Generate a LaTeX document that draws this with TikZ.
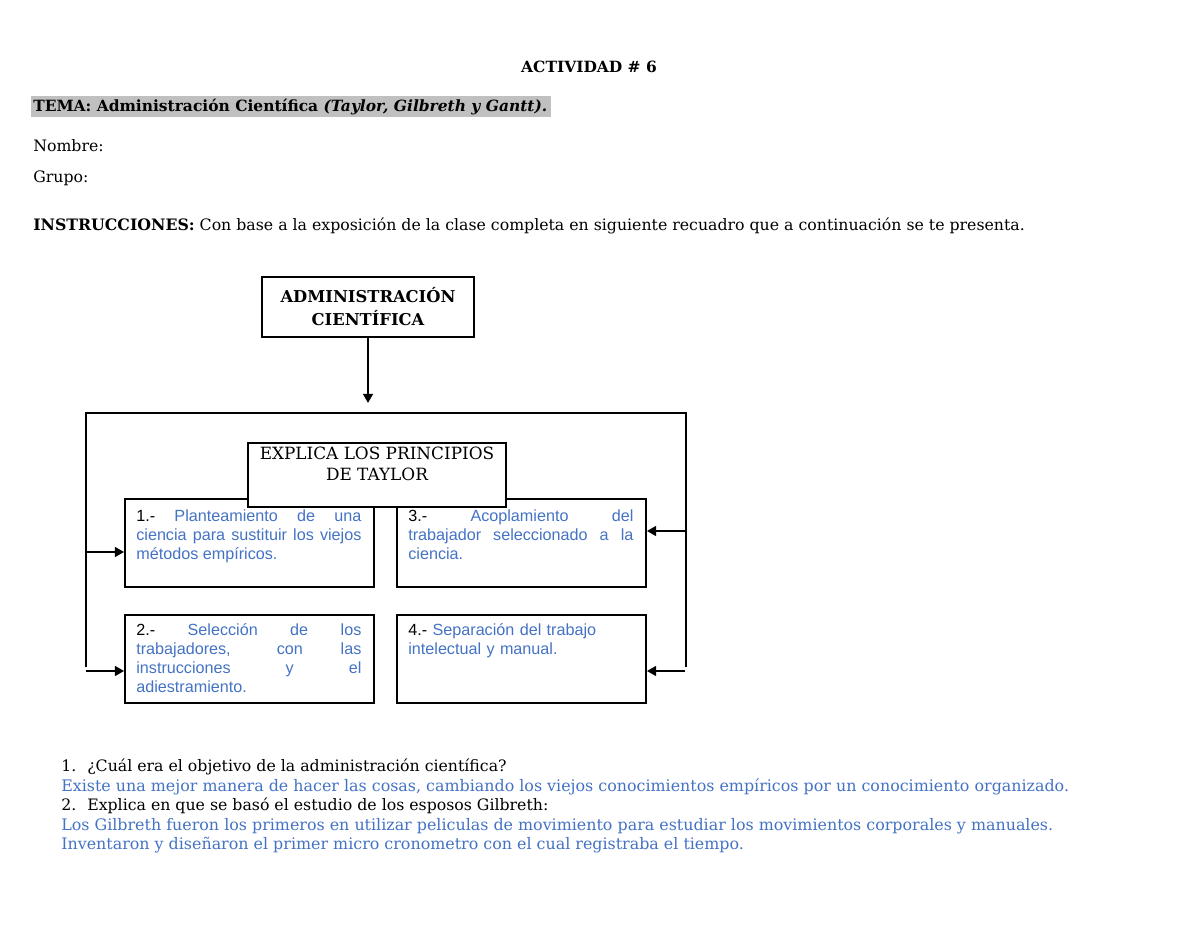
\documentclass[tikz,border=0pt]{standalone}
\usepackage{fontspec}
\setmainfont{DejaVu Serif}
\newfontfamily\boxfont{Liberation Sans}
\usepackage{xcolor}
\definecolor{tblue}{RGB}{68,114,196}
\definecolor{hlgray}{RGB}{192,192,192}
\usetikzlibrary{arrows.meta, positioning, calc}

\begin{document}
\begin{tikzpicture}[x=0.025cm, y=-0.025cm,
    hdr/.style={anchor=base west, inner sep=0pt, font=\fontsize{11.2}{13}\selectfont},
    ans/.style={hdr, text=tblue, font=\fontsize{11.3}{13}\selectfont},
    pbox/.style={draw, line width=1.3pt, minimum width=6.225cm, minimum height=2.2cm, inner sep=0pt},
    ptext/.style={anchor=north west, inner sep=0pt, text width=5.625cm, align=justify,
                  font=\boxfont\fontsize{11.5}{13.5}\selectfont, text=tblue},
    frameline/.style={line width=1.3pt},
    link/.style={line width=1.3pt, -{Triangle[length=6.5pt, width=7pt]}}]
\useasboundingbox (0,0) rectangle (1200,927);

% === Header ===
\node[hdr, anchor=base, font=\bfseries\fontsize{11}{13}\selectfont] (title) at (589,72) {ACTIVIDAD \# 6};
\fill[hlgray] (31,96) rectangle (551,117);
\node[hdr, font=\bfseries\fontsize{11}{13}\selectfont] (tema) at (33,111)
     {TEMA: Administración Científica \textit{(Taylor, Gilbreth y Gantt).}};
\node[hdr] (nombre) at (33,151) {Nombre:};
\node[hdr] (grupo) at (33,182) {Grupo:};
\node[hdr] (instr) at (33,230)
     {\textbf{INSTRUCCIONES:} Con base a la exposición de la clase completa en siguiente recuadro que a continuación se te presenta.};

% === Top box ===
\node[draw, line width=1.3pt, minimum width=5.3cm, minimum height=1.5cm, align=center,
      font=\bfseries\fontsize{11.6}{16.4}\selectfont] (admin) at (368,307) {ADMINISTRACIÓN\\CIENTÍFICA};
\coordinate (admindown) at (368,403);
\draw[link] (admin.south) -- (admindown);

% === Frame round the principles ===
\coordinate (fl) at (86,667);
\coordinate (ftl) at (86,413);
\coordinate (ftr) at (686,413);
\coordinate (fr) at (686,667);
\draw[frameline] (fl) -- (ftl) -- (ftr) -- (fr);

% === Principle boxes ===
\node[pbox] (p1) at (249.5,543) {};
\node[pbox] (p3) at (521.5,543) {};
\node[pbox] (p2) at (249.5,659) {};
\node[pbox] (p4) at (521.5,659) {};

\node[ptext] (t1) at ($(p1.north west)+(12,9.7)$)
     {\strut\textcolor{black}{1.-} Planteamiento de una\linebreak ciencia para sustituir los viejos\linebreak métodos empíricos.};
\node[ptext] (t3) at ($(p3.north west)+(12,9.7)$)
     {\strut\textcolor{black}{3.-} Acoplamiento del\linebreak trabajador seleccionado a la\linebreak ciencia.};
\node[ptext] (t2) at ($(p2.north west)+(12,7.7)$)
     {\strut\textcolor{black}{2.-} Selección de los\linebreak trabajadores, con las\linebreak instrucciones y el\linebreak adiestramiento.};
\node[ptext, align=left] (t4) at ($(p4.north west)+(12,7.7)$)
     {\strut\textcolor{black}{4.-} Separación del trabajo\\intelectual y manual.};

% === Title box over the principles ===
\node[draw, line width=1.3pt, fill=white, minimum width=6.45cm, minimum height=1.6cm] (explica) at (377,475) {};
\node[anchor=north, inner sep=0pt, align=center, font=\fontsize{12}{15}\selectfont] (explicatxt)
     at ($(explica.north)+(0,4.5)$) {EXPLICA LOS PRINCIPIOS\\DE TAYLOR};

% Arrows from the frame
\coordinate (a1) at (86,552);
\coordinate (a2) at (86,671);
\coordinate (a3) at (686,531);
\coordinate (a4) at (685,671);
\draw[link] (a1) -- (a1 -| p1.west);
\draw[link] (a2) -- (a2 -| p2.west);
\draw[link] (a3) -- (a3 -| p3.east);
\draw[link] (a4) -- (a4 -| p4.east);

% === Questions ===
\node[hdr] (q1num) at (61,771) {1.};
\node[hdr] (q1) at (87,771) {¿Cuál era el objetivo de la administración científica?};
\node[ans] (r1) at (61,791) {Existe una mejor manera de hacer las cosas, cambiando los viejos conocimientos empíricos por un conocimiento organizado.};
\node[hdr] (q2num) at (61,810) {2.};
\node[hdr] (q2) at (87,810) {Explica en que se basó el estudio de los esposos Gilbreth:};
\node[ans] (r2) at (61,830) {Los Gilbreth fueron los primeros en utilizar peliculas de movimiento para estudiar los movimientos corporales y manuales.};
\node[ans] (r3) at (61,849) {Inventaron y diseñaron el primer micro cronometro con el cual registraba el tiempo.};

\end{tikzpicture}
\end{document}
